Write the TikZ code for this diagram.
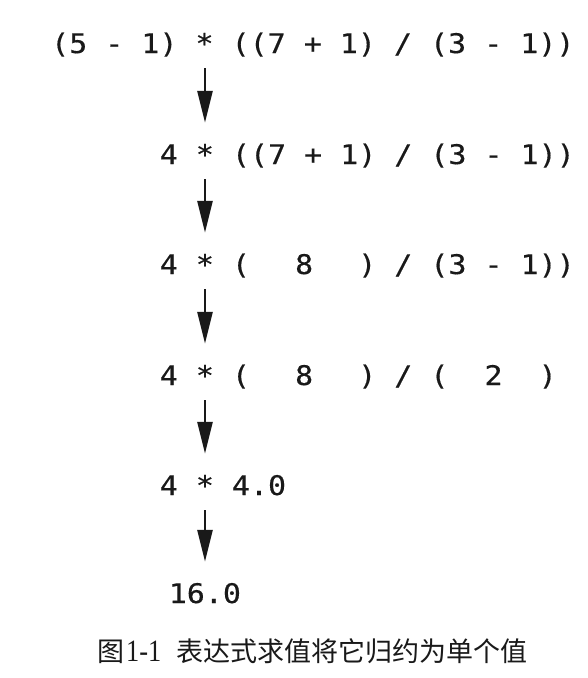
\documentclass[tikz,border=0pt]{standalone}
\usepackage{fontspec}
\usetikzlibrary{arrows.meta}
\newfontfamily\codefont[FakeStretch=1.11,FakeBold=0.45]{DejaVu Sans Mono}
\newfontfamily\cjk{Noto Sans CJK SC}
\newfontfamily\capfont[FakeStretch=0.85]{Liberation Serif}
\definecolor{ink}{RGB}{25,25,25}
\newlength\cw
\begin{document}
\frenchspacing
\settowidth{\cw}{\codefont\fontsize{27}{27}\selectfont 0}
\begin{tikzpicture}[x=1pt,y=-1pt,
  code/.style={font=\codefont\fontsize{27}{27}\selectfont, text=ink, inner sep=0pt,
    anchor=base west, text height=20pt, text depth=5pt},
  arr/.style={draw=ink, line width=2.8pt, -{Triangle[width=15pt,length=32pt]},
    shorten <=10pt, shorten >=21pt},
  caption/.style={font=\fontsize{27}{27}\selectfont, text=ink, inner sep=0pt, anchor=west}]
\useasboundingbox[fill=white] (0,0) rectangle (587,678);
\coordinate (ax) at (205,0);
\node[code] (l1) at (51,53) {(5 - 1) * ((7 + 1) / (3 - 1))};
\node[code] (l2) at (159.6,164) {4 * ((7 + 1) / (3 - 1))};
\node[code] (l3) at (159.6,274) {4 * (\makebox[6\cw]{8}) / (3 - 1))};
\node[code] (l4) at (159.6,385) {4 * (\makebox[6\cw]{8}) / (\makebox[5\cw]{2})};
\node[code] (l5) at (159.6,495) {4 * 4.0};
\node[code] (l6) at (168.6,603) {16.0};
\draw[arr] (l1.south -| ax) -- (l2.north -| ax);
\draw[arr] (l2.south -| ax) -- (l3.north -| ax);
\draw[arr] (l3.south -| ax) -- (l4.north -| ax);
\draw[arr] (l4.south -| ax) -- (l5.north -| ax);
\draw[arr] (l5.south -| ax) -- (l6.north -| ax);
\node[caption] (cap) at (97,651) {{\cjk 图}\hspace{2pt}{\capfont\fontsize{31}{31}\selectfont 1-1}\hspace{15pt}{\cjk 表达式求值将它归约为单个值}};
\end{tikzpicture}
\end{document}
